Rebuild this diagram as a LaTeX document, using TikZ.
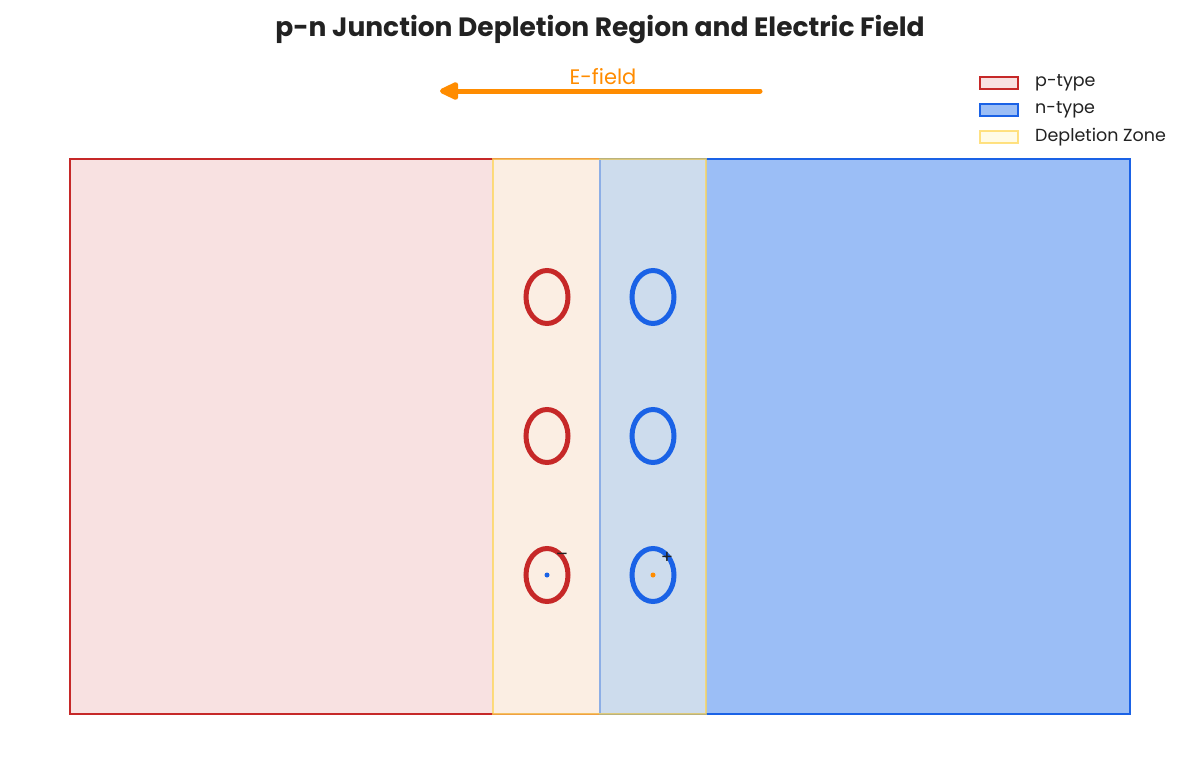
\documentclass[tikz,border=0pt]{standalone}
\usepackage{fontspec}
\setmainfont{Poppins}
\usetikzlibrary{shapes.geometric,arrows.meta,positioning}
\definecolor{pRed}{HTML}{C62828}
\definecolor{pFill}{HTML}{F8E1E1}
\definecolor{nBlue}{HTML}{1A62E6}
\definecolor{nFill}{HTML}{9BBEF6}
\definecolor{depFill}{HTML}{FFFBE6}
\definecolor{depLine}{HTML}{FFD54F}
\definecolor{fieldOrange}{HTML}{FF8C00}
\definecolor{titleGray}{HTML}{222222}
\tikzset{
  region/.style={line width=2pt},
  ion/.style={ellipse, draw, line width=5pt, minimum width=42pt, minimum height=53pt, inner sep=0pt},
  carrier/.style={circle, inner sep=0pt, minimum size=5pt},
  sign/.style={font=\fontsize{18}{18}\selectfont, text=titleGray, inner sep=0pt},
  keybox/.style={line width=2pt, minimum width=38pt, minimum height=12pt, inner sep=0pt},
  keytext/.style={font=\fontsize{17.5}{17.5}\selectfont, text=titleGray, anchor=west, inner sep=0pt}
}
\begin{document}
\begin{tikzpicture}[x=1pt, y=-1pt]

    % Canvas
    \useasboundingbox[fill=white] (0,0) rectangle (1200,763);

    % Title
    \node[font=\bfseries\fontsize{26.5}{26.5}\selectfont, text=titleGray] (title) at (600,30)
      {p-n Junction Depletion Region and Electric Field};

    % Semiconductor regions
    \draw[region, draw=pRed, fill=pFill] (70,159) rectangle (600,714);
    \draw[region, draw=nBlue, fill=nFill] (600,159) rectangle (1130,714);

    % Depletion zone
    \draw[region, draw=depLine, draw opacity=0.7, fill=depFill, fill opacity=0.5]
      (493,159) rectangle (706,714);

    % Fixed ions (p side)
    \foreach \y [count=\i] in {297,436,575}
      \node[ion, draw=pRed] (acc\i) at (547,\y) {};

    % Fixed ions (n side)
    \foreach \y [count=\i] in {297,436,575}
      \node[ion, draw=nBlue] (don\i) at (653,\y) {};

    % Charges of the bottom ions
    \node[carrier, fill=nBlue] (e3) at (acc3) {};
    \node[carrier, fill=fieldOrange] (h3) at (don3) {};
    \node[sign] (minus) at (562,557) {–};
    \node[sign] (plus) at (667,558) {+};

    % Electric field
    \coordinate (fstart) at (760,91);
    \coordinate (fend) at (440,91);
    \draw[line width=5pt, draw=fieldOrange, line cap=round,
      -{Triangle[length=22pt, width=19pt, round]}] (fstart) -- (fend);
    \node[font=\fontsize{21}{21}\selectfont, text=fieldOrange] (flabel) at (603,77) {E-field};

    % Legend
    \node[keybox, draw=pRed, fill=pFill] (kp) at (999,83) {};
    \node[keybox, draw=nBlue, fill=nFill] (kn) at (999,110) {};
    \node[keybox, draw=depLine, draw opacity=0.7, fill=depFill] (kd) at (999,137) {};
    \node[keytext] (tp) at (1035,83) {p-type};
    \node[keytext] (tn) at (1035,110) {n-type};
    \node[keytext] (td) at (1035,137) {Depletion Zone};

  \end{tikzpicture}
\end{document}
